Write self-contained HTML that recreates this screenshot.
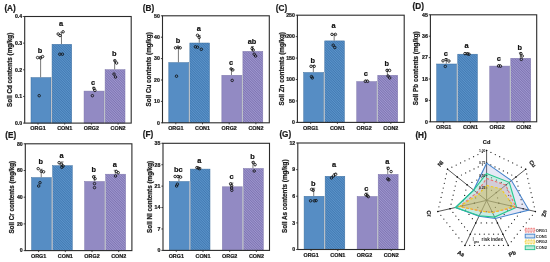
<!DOCTYPE html>
<html><head><meta charset="utf-8"><style>
html,body{margin:0;padding:0;background:#fff;width:550px;height:262px;overflow:hidden;font-family:"Liberation Sans", sans-serif;}
svg{display:block;will-change:transform;}
text.b{stroke:#1a1a1a;stroke-width:0.22px;}
</style></head><body>
<svg width="550" height="262" viewBox="0 0 550 262">
<defs>
<pattern id="hb" width="1.75" height="1.75" patternUnits="userSpaceOnUse" patternTransform="rotate(-45)"><rect width="1.75" height="1.75" fill="#5b94cb"/><rect x="0" width="0.7" height="1.75" fill="#2f65a0" fill-opacity="0.72"/></pattern>
<pattern id="hp" width="1.75" height="1.75" patternUnits="userSpaceOnUse" patternTransform="rotate(-45)"><rect width="1.75" height="1.75" fill="#9f97cf"/><rect x="0" width="0.7" height="1.75" fill="#665c9c" fill-opacity="0.72"/></pattern>
</defs>
<rect width="550" height="262" fill="#fff"/>
<rect x="31.00" y="77.60" width="20.05" height="45.50" fill="#568dc4"/>
<rect x="31.00" y="77.60" width="20.05" height="45.50" fill="none" stroke="#3d6f9f" stroke-width="0.5"/>
<rect x="52.05" y="44.30" width="19.65" height="78.80" fill="url(#hb)"/>
<rect x="52.05" y="44.30" width="19.65" height="78.80" fill="none" stroke="#3d6f9f" stroke-width="0.5"/>
<rect x="84.05" y="91.10" width="20.05" height="32.00" fill="#928ac3"/>
<rect x="84.05" y="91.10" width="20.05" height="32.00" fill="none" stroke="#7d74aa" stroke-width="0.5"/>
<rect x="105.10" y="69.70" width="19.90" height="53.40" fill="url(#hp)"/>
<rect x="105.10" y="69.70" width="19.90" height="53.40" fill="none" stroke="#7d74aa" stroke-width="0.5"/>
<rect x="51.05" y="77.30" width="1" height="45.80" fill="#bcc1c9"/>
<rect x="104.10" y="90.80" width="1" height="32.30" fill="#bcc1c9"/>
<line x1="40.62" y1="77.30" x2="40.62" y2="56.40" stroke="#6a6a6a" stroke-width="0.9"/>
<line x1="39.12" y1="56.40" x2="42.12" y2="56.40" stroke="#6a6a6a" stroke-width="0.8"/>
<line x1="61.48" y1="44.00" x2="61.48" y2="32.30" stroke="#6a6a6a" stroke-width="0.9"/>
<line x1="59.98" y1="32.30" x2="62.98" y2="32.30" stroke="#6a6a6a" stroke-width="0.8"/>
<line x1="93.67" y1="90.80" x2="93.67" y2="87.30" stroke="#6a6a6a" stroke-width="0.9"/>
<line x1="92.17" y1="87.30" x2="95.17" y2="87.30" stroke="#6a6a6a" stroke-width="0.8"/>
<line x1="114.65" y1="69.40" x2="114.65" y2="60.00" stroke="#6a6a6a" stroke-width="0.9"/>
<line x1="113.15" y1="60.00" x2="116.15" y2="60.00" stroke="#6a6a6a" stroke-width="0.8"/>
<circle cx="37.60" cy="57.60" r="1.25" fill="none" stroke="#111" stroke-width="0.85"/>
<circle cx="40.50" cy="58.00" r="1.25" fill="none" stroke="#111" stroke-width="0.85"/>
<circle cx="42.60" cy="56.60" r="1.25" fill="none" stroke="#111" stroke-width="0.85"/>
<circle cx="39.20" cy="95.70" r="1.25" fill="none" stroke="#111" stroke-width="0.85"/>
<circle cx="58.20" cy="34.00" r="1.25" fill="none" stroke="#111" stroke-width="0.85"/>
<circle cx="60.00" cy="35.50" r="1.25" fill="none" stroke="#111" stroke-width="0.85"/>
<circle cx="63.10" cy="31.80" r="1.25" fill="none" stroke="#111" stroke-width="0.85"/>
<circle cx="59.80" cy="54.20" r="1.25" fill="none" stroke="#111" stroke-width="0.85"/>
<circle cx="62.40" cy="54.20" r="1.25" fill="none" stroke="#111" stroke-width="0.85"/>
<circle cx="93.90" cy="88.40" r="1.25" fill="none" stroke="#111" stroke-width="0.85"/>
<circle cx="94.90" cy="90.40" r="1.25" fill="none" stroke="#111" stroke-width="0.85"/>
<circle cx="92.40" cy="95.70" r="1.25" fill="none" stroke="#111" stroke-width="0.85"/>
<circle cx="114.90" cy="60.80" r="1.25" fill="none" stroke="#111" stroke-width="0.85"/>
<circle cx="116.60" cy="63.00" r="1.25" fill="none" stroke="#111" stroke-width="0.85"/>
<circle cx="114.00" cy="74.10" r="1.25" fill="none" stroke="#111" stroke-width="0.85"/>
<circle cx="115.50" cy="77.00" r="1.25" fill="none" stroke="#111" stroke-width="0.85"/>
<text x="40.12" y="53.00" font-family='"Liberation Sans", sans-serif' class="b" font-weight="bold" font-size="7.4" text-anchor="middle" fill="#111">b</text>
<text x="60.98" y="26.00" font-family='"Liberation Sans", sans-serif' class="b" font-weight="bold" font-size="7.4" text-anchor="middle" fill="#111">a</text>
<text x="93.17" y="84.50" font-family='"Liberation Sans", sans-serif' class="b" font-weight="bold" font-size="7.4" text-anchor="middle" fill="#111">c</text>
<text x="114.15" y="56.40" font-family='"Liberation Sans", sans-serif' class="b" font-weight="bold" font-size="7.4" text-anchor="middle" fill="#111">b</text>
<rect x="24.70" y="16.50" width="106.50" height="106.60" fill="none" stroke="#2b2b2b" stroke-width="1.1"/>
<line x1="23.10" y1="123.10" x2="24.70" y2="123.10" stroke="#2b2b2b" stroke-width="0.9"/>
<text x="22.10" y="124.95" font-family='"Liberation Sans", sans-serif' class="b" font-weight="bold" font-size="5.2" text-anchor="end" fill="#1a1a1a">0.0</text>
<line x1="23.10" y1="96.45" x2="24.70" y2="96.45" stroke="#2b2b2b" stroke-width="0.9"/>
<text x="22.10" y="98.30" font-family='"Liberation Sans", sans-serif' class="b" font-weight="bold" font-size="5.2" text-anchor="end" fill="#1a1a1a">0.1</text>
<line x1="23.10" y1="69.80" x2="24.70" y2="69.80" stroke="#2b2b2b" stroke-width="0.9"/>
<text x="22.10" y="71.65" font-family='"Liberation Sans", sans-serif' class="b" font-weight="bold" font-size="5.2" text-anchor="end" fill="#1a1a1a">0.2</text>
<line x1="23.10" y1="43.15" x2="24.70" y2="43.15" stroke="#2b2b2b" stroke-width="0.9"/>
<text x="22.10" y="45.00" font-family='"Liberation Sans", sans-serif' class="b" font-weight="bold" font-size="5.2" text-anchor="end" fill="#1a1a1a">0.3</text>
<line x1="23.10" y1="16.50" x2="24.70" y2="16.50" stroke="#2b2b2b" stroke-width="0.9"/>
<text x="22.10" y="18.35" font-family='"Liberation Sans", sans-serif' class="b" font-weight="bold" font-size="5.2" text-anchor="end" fill="#1a1a1a">0.4</text>
<line x1="38.00" y1="123.10" x2="38.00" y2="124.60" stroke="#2b2b2b" stroke-width="0.9"/>
<text x="38.00" y="130.20" font-family='"Liberation Sans", sans-serif' class="b" font-weight="bold" font-size="5.4" text-anchor="middle" fill="#1a1a1a">ORG1</text>
<line x1="64.70" y1="123.10" x2="64.70" y2="124.60" stroke="#2b2b2b" stroke-width="0.9"/>
<text x="64.70" y="130.20" font-family='"Liberation Sans", sans-serif' class="b" font-weight="bold" font-size="5.4" text-anchor="middle" fill="#1a1a1a">CON1</text>
<line x1="91.40" y1="123.10" x2="91.40" y2="124.60" stroke="#2b2b2b" stroke-width="0.9"/>
<text x="91.40" y="130.20" font-family='"Liberation Sans", sans-serif' class="b" font-weight="bold" font-size="5.4" text-anchor="middle" fill="#1a1a1a">ORG2</text>
<line x1="118.10" y1="123.10" x2="118.10" y2="124.60" stroke="#2b2b2b" stroke-width="0.9"/>
<text x="118.10" y="130.20" font-family='"Liberation Sans", sans-serif' class="b" font-weight="bold" font-size="5.4" text-anchor="middle" fill="#1a1a1a">CON2</text>
<text transform="translate(12.40,69.80) rotate(-90)" font-family='"Liberation Sans", sans-serif' class="b" font-weight="bold" font-size="6.3" text-anchor="middle" fill="#1a1a1a">Soil Cd contents (mg/kg)</text>
<text x="4.40" y="11.10" font-family='"Liberation Sans", sans-serif' class="b" font-weight="bold" font-size="8.2" fill="#1a1a1a">(A)</text>
<rect x="168.80" y="62.60" width="20.05" height="60.20" fill="#568dc4"/>
<rect x="168.80" y="62.60" width="20.05" height="60.20" fill="none" stroke="#3d6f9f" stroke-width="0.5"/>
<rect x="189.85" y="43.00" width="19.65" height="79.80" fill="url(#hb)"/>
<rect x="189.85" y="43.00" width="19.65" height="79.80" fill="none" stroke="#3d6f9f" stroke-width="0.5"/>
<rect x="221.85" y="75.30" width="20.05" height="47.50" fill="#928ac3"/>
<rect x="221.85" y="75.30" width="20.05" height="47.50" fill="none" stroke="#7d74aa" stroke-width="0.5"/>
<rect x="242.90" y="51.40" width="19.90" height="71.40" fill="url(#hp)"/>
<rect x="242.90" y="51.40" width="19.90" height="71.40" fill="none" stroke="#7d74aa" stroke-width="0.5"/>
<rect x="188.85" y="62.30" width="1" height="60.50" fill="#bcc1c9"/>
<rect x="241.90" y="75.00" width="1" height="47.80" fill="#bcc1c9"/>
<line x1="178.42" y1="62.30" x2="178.42" y2="47.50" stroke="#6a6a6a" stroke-width="0.9"/>
<line x1="176.92" y1="47.50" x2="179.92" y2="47.50" stroke="#6a6a6a" stroke-width="0.8"/>
<line x1="199.28" y1="42.70" x2="199.28" y2="35.40" stroke="#6a6a6a" stroke-width="0.9"/>
<line x1="197.78" y1="35.40" x2="200.78" y2="35.40" stroke="#6a6a6a" stroke-width="0.8"/>
<line x1="231.47" y1="75.00" x2="231.47" y2="68.70" stroke="#6a6a6a" stroke-width="0.9"/>
<line x1="229.97" y1="68.70" x2="232.97" y2="68.70" stroke="#6a6a6a" stroke-width="0.8"/>
<line x1="252.45" y1="51.10" x2="252.45" y2="46.50" stroke="#6a6a6a" stroke-width="0.9"/>
<line x1="250.95" y1="46.50" x2="253.95" y2="46.50" stroke="#6a6a6a" stroke-width="0.8"/>
<circle cx="175.50" cy="47.80" r="1.25" fill="none" stroke="#111" stroke-width="0.85"/>
<circle cx="178.00" cy="47.20" r="1.25" fill="none" stroke="#111" stroke-width="0.85"/>
<circle cx="180.20" cy="47.80" r="1.25" fill="none" stroke="#111" stroke-width="0.85"/>
<circle cx="176.50" cy="76.20" r="1.25" fill="none" stroke="#111" stroke-width="0.85"/>
<circle cx="197.50" cy="35.30" r="1.25" fill="none" stroke="#111" stroke-width="0.85"/>
<circle cx="199.20" cy="37.40" r="1.25" fill="none" stroke="#111" stroke-width="0.85"/>
<circle cx="195.40" cy="46.80" r="1.25" fill="none" stroke="#111" stroke-width="0.85"/>
<circle cx="197.50" cy="47.20" r="1.25" fill="none" stroke="#111" stroke-width="0.85"/>
<circle cx="201.30" cy="49.30" r="1.25" fill="none" stroke="#111" stroke-width="0.85"/>
<circle cx="231.10" cy="68.90" r="1.25" fill="none" stroke="#111" stroke-width="0.85"/>
<circle cx="232.80" cy="69.90" r="1.25" fill="none" stroke="#111" stroke-width="0.85"/>
<circle cx="232.20" cy="80.40" r="1.25" fill="none" stroke="#111" stroke-width="0.85"/>
<circle cx="252.10" cy="48.50" r="1.25" fill="none" stroke="#111" stroke-width="0.85"/>
<circle cx="253.20" cy="50.00" r="1.25" fill="none" stroke="#111" stroke-width="0.85"/>
<circle cx="254.20" cy="54.20" r="1.25" fill="none" stroke="#111" stroke-width="0.85"/>
<circle cx="255.60" cy="56.00" r="1.25" fill="none" stroke="#111" stroke-width="0.85"/>
<text x="177.92" y="42.60" font-family='"Liberation Sans", sans-serif' class="b" font-weight="bold" font-size="7.4" text-anchor="middle" fill="#111">b</text>
<text x="198.78" y="31.40" font-family='"Liberation Sans", sans-serif' class="b" font-weight="bold" font-size="7.4" text-anchor="middle" fill="#111">a</text>
<text x="230.97" y="65.00" font-family='"Liberation Sans", sans-serif' class="b" font-weight="bold" font-size="7.4" text-anchor="middle" fill="#111">c</text>
<text x="251.95" y="43.80" font-family='"Liberation Sans", sans-serif' class="b" font-weight="bold" font-size="7.4" text-anchor="middle" fill="#111">ab</text>
<rect x="162.50" y="15.80" width="106.80" height="107.00" fill="none" stroke="#2b2b2b" stroke-width="1.1"/>
<line x1="160.90" y1="122.80" x2="162.50" y2="122.80" stroke="#2b2b2b" stroke-width="0.9"/>
<text x="159.90" y="124.65" font-family='"Liberation Sans", sans-serif' class="b" font-weight="bold" font-size="5.2" text-anchor="end" fill="#1a1a1a">0</text>
<line x1="160.90" y1="101.40" x2="162.50" y2="101.40" stroke="#2b2b2b" stroke-width="0.9"/>
<text x="159.90" y="103.25" font-family='"Liberation Sans", sans-serif' class="b" font-weight="bold" font-size="5.2" text-anchor="end" fill="#1a1a1a">10</text>
<line x1="160.90" y1="80.00" x2="162.50" y2="80.00" stroke="#2b2b2b" stroke-width="0.9"/>
<text x="159.90" y="81.85" font-family='"Liberation Sans", sans-serif' class="b" font-weight="bold" font-size="5.2" text-anchor="end" fill="#1a1a1a">20</text>
<line x1="160.90" y1="58.60" x2="162.50" y2="58.60" stroke="#2b2b2b" stroke-width="0.9"/>
<text x="159.90" y="60.45" font-family='"Liberation Sans", sans-serif' class="b" font-weight="bold" font-size="5.2" text-anchor="end" fill="#1a1a1a">30</text>
<line x1="160.90" y1="37.20" x2="162.50" y2="37.20" stroke="#2b2b2b" stroke-width="0.9"/>
<text x="159.90" y="39.05" font-family='"Liberation Sans", sans-serif' class="b" font-weight="bold" font-size="5.2" text-anchor="end" fill="#1a1a1a">40</text>
<line x1="160.90" y1="15.80" x2="162.50" y2="15.80" stroke="#2b2b2b" stroke-width="0.9"/>
<text x="159.90" y="17.65" font-family='"Liberation Sans", sans-serif' class="b" font-weight="bold" font-size="5.2" text-anchor="end" fill="#1a1a1a">50</text>
<line x1="175.80" y1="122.80" x2="175.80" y2="124.30" stroke="#2b2b2b" stroke-width="0.9"/>
<text x="175.80" y="129.90" font-family='"Liberation Sans", sans-serif' class="b" font-weight="bold" font-size="5.4" text-anchor="middle" fill="#1a1a1a">ORG1</text>
<line x1="202.50" y1="122.80" x2="202.50" y2="124.30" stroke="#2b2b2b" stroke-width="0.9"/>
<text x="202.50" y="129.90" font-family='"Liberation Sans", sans-serif' class="b" font-weight="bold" font-size="5.4" text-anchor="middle" fill="#1a1a1a">CON1</text>
<line x1="229.20" y1="122.80" x2="229.20" y2="124.30" stroke="#2b2b2b" stroke-width="0.9"/>
<text x="229.20" y="129.90" font-family='"Liberation Sans", sans-serif' class="b" font-weight="bold" font-size="5.4" text-anchor="middle" fill="#1a1a1a">ORG2</text>
<line x1="255.90" y1="122.80" x2="255.90" y2="124.30" stroke="#2b2b2b" stroke-width="0.9"/>
<text x="255.90" y="129.90" font-family='"Liberation Sans", sans-serif' class="b" font-weight="bold" font-size="5.4" text-anchor="middle" fill="#1a1a1a">CON2</text>
<text transform="translate(150.90,69.30) rotate(-90)" font-family='"Liberation Sans", sans-serif' class="b" font-weight="bold" font-size="6.3" text-anchor="middle" fill="#1a1a1a">Soil Cu contents (mg/kg)</text>
<text x="142.80" y="10.50" font-family='"Liberation Sans", sans-serif' class="b" font-weight="bold" font-size="8.2" fill="#1a1a1a">(B)</text>
<rect x="303.70" y="72.50" width="20.05" height="49.90" fill="#568dc4"/>
<rect x="303.70" y="72.50" width="20.05" height="49.90" fill="none" stroke="#3d6f9f" stroke-width="0.5"/>
<rect x="324.75" y="40.90" width="19.65" height="81.50" fill="url(#hb)"/>
<rect x="324.75" y="40.90" width="19.65" height="81.50" fill="none" stroke="#3d6f9f" stroke-width="0.5"/>
<rect x="356.75" y="81.60" width="20.05" height="40.80" fill="#928ac3"/>
<rect x="356.75" y="81.60" width="20.05" height="40.80" fill="none" stroke="#7d74aa" stroke-width="0.5"/>
<rect x="377.80" y="75.30" width="19.90" height="47.10" fill="url(#hp)"/>
<rect x="377.80" y="75.30" width="19.90" height="47.10" fill="none" stroke="#7d74aa" stroke-width="0.5"/>
<rect x="323.75" y="72.20" width="1" height="50.20" fill="#bcc1c9"/>
<rect x="376.80" y="81.30" width="1" height="41.10" fill="#bcc1c9"/>
<line x1="313.33" y1="72.20" x2="313.33" y2="65.50" stroke="#6a6a6a" stroke-width="0.9"/>
<line x1="311.83" y1="65.50" x2="314.83" y2="65.50" stroke="#6a6a6a" stroke-width="0.8"/>
<line x1="334.18" y1="40.60" x2="334.18" y2="34.40" stroke="#6a6a6a" stroke-width="0.9"/>
<line x1="332.68" y1="34.40" x2="335.68" y2="34.40" stroke="#6a6a6a" stroke-width="0.8"/>
<line x1="366.38" y1="81.30" x2="366.38" y2="80.00" stroke="#6a6a6a" stroke-width="0.9"/>
<line x1="364.88" y1="80.00" x2="367.88" y2="80.00" stroke="#6a6a6a" stroke-width="0.8"/>
<line x1="387.35" y1="75.00" x2="387.35" y2="69.70" stroke="#6a6a6a" stroke-width="0.9"/>
<line x1="385.85" y1="69.70" x2="388.85" y2="69.70" stroke="#6a6a6a" stroke-width="0.8"/>
<circle cx="311.00" cy="66.30" r="1.25" fill="none" stroke="#111" stroke-width="0.85"/>
<circle cx="314.20" cy="66.30" r="1.25" fill="none" stroke="#111" stroke-width="0.85"/>
<circle cx="311.50" cy="76.60" r="1.25" fill="none" stroke="#111" stroke-width="0.85"/>
<circle cx="312.30" cy="77.90" r="1.25" fill="none" stroke="#111" stroke-width="0.85"/>
<circle cx="332.00" cy="34.40" r="1.25" fill="none" stroke="#111" stroke-width="0.85"/>
<circle cx="335.40" cy="34.40" r="1.25" fill="none" stroke="#111" stroke-width="0.85"/>
<circle cx="333.20" cy="45.20" r="1.25" fill="none" stroke="#111" stroke-width="0.85"/>
<circle cx="334.80" cy="47.50" r="1.25" fill="none" stroke="#111" stroke-width="0.85"/>
<circle cx="365.30" cy="81.30" r="1.25" fill="none" stroke="#111" stroke-width="0.85"/>
<circle cx="367.60" cy="81.30" r="1.25" fill="none" stroke="#111" stroke-width="0.85"/>
<circle cx="387.10" cy="70.40" r="1.25" fill="none" stroke="#111" stroke-width="0.85"/>
<circle cx="389.60" cy="70.40" r="1.25" fill="none" stroke="#111" stroke-width="0.85"/>
<circle cx="388.10" cy="76.00" r="1.25" fill="none" stroke="#111" stroke-width="0.85"/>
<circle cx="389.70" cy="77.90" r="1.25" fill="none" stroke="#111" stroke-width="0.85"/>
<text x="312.83" y="62.90" font-family='"Liberation Sans", sans-serif' class="b" font-weight="bold" font-size="7.4" text-anchor="middle" fill="#111">b</text>
<text x="333.68" y="28.00" font-family='"Liberation Sans", sans-serif' class="b" font-weight="bold" font-size="7.4" text-anchor="middle" fill="#111">a</text>
<text x="365.88" y="75.60" font-family='"Liberation Sans", sans-serif' class="b" font-weight="bold" font-size="7.4" text-anchor="middle" fill="#111">c</text>
<text x="386.85" y="66.00" font-family='"Liberation Sans", sans-serif' class="b" font-weight="bold" font-size="7.4" text-anchor="middle" fill="#111">b</text>
<rect x="297.40" y="15.20" width="106.80" height="107.20" fill="none" stroke="#2b2b2b" stroke-width="1.1"/>
<line x1="295.80" y1="122.40" x2="297.40" y2="122.40" stroke="#2b2b2b" stroke-width="0.9"/>
<text x="294.80" y="124.25" font-family='"Liberation Sans", sans-serif' class="b" font-weight="bold" font-size="5.2" text-anchor="end" fill="#1a1a1a">0</text>
<line x1="295.80" y1="100.96" x2="297.40" y2="100.96" stroke="#2b2b2b" stroke-width="0.9"/>
<text x="294.80" y="102.81" font-family='"Liberation Sans", sans-serif' class="b" font-weight="bold" font-size="5.2" text-anchor="end" fill="#1a1a1a">50</text>
<line x1="295.80" y1="79.52" x2="297.40" y2="79.52" stroke="#2b2b2b" stroke-width="0.9"/>
<text x="294.80" y="81.37" font-family='"Liberation Sans", sans-serif' class="b" font-weight="bold" font-size="5.2" text-anchor="end" fill="#1a1a1a">100</text>
<line x1="295.80" y1="58.08" x2="297.40" y2="58.08" stroke="#2b2b2b" stroke-width="0.9"/>
<text x="294.80" y="59.93" font-family='"Liberation Sans", sans-serif' class="b" font-weight="bold" font-size="5.2" text-anchor="end" fill="#1a1a1a">150</text>
<line x1="295.80" y1="36.64" x2="297.40" y2="36.64" stroke="#2b2b2b" stroke-width="0.9"/>
<text x="294.80" y="38.49" font-family='"Liberation Sans", sans-serif' class="b" font-weight="bold" font-size="5.2" text-anchor="end" fill="#1a1a1a">200</text>
<line x1="295.80" y1="15.20" x2="297.40" y2="15.20" stroke="#2b2b2b" stroke-width="0.9"/>
<text x="294.80" y="17.05" font-family='"Liberation Sans", sans-serif' class="b" font-weight="bold" font-size="5.2" text-anchor="end" fill="#1a1a1a">250</text>
<line x1="310.70" y1="122.40" x2="310.70" y2="123.90" stroke="#2b2b2b" stroke-width="0.9"/>
<text x="310.70" y="129.50" font-family='"Liberation Sans", sans-serif' class="b" font-weight="bold" font-size="5.4" text-anchor="middle" fill="#1a1a1a">ORG1</text>
<line x1="337.40" y1="122.40" x2="337.40" y2="123.90" stroke="#2b2b2b" stroke-width="0.9"/>
<text x="337.40" y="129.50" font-family='"Liberation Sans", sans-serif' class="b" font-weight="bold" font-size="5.4" text-anchor="middle" fill="#1a1a1a">CON1</text>
<line x1="364.10" y1="122.40" x2="364.10" y2="123.90" stroke="#2b2b2b" stroke-width="0.9"/>
<text x="364.10" y="129.50" font-family='"Liberation Sans", sans-serif' class="b" font-weight="bold" font-size="5.4" text-anchor="middle" fill="#1a1a1a">ORG2</text>
<line x1="390.80" y1="122.40" x2="390.80" y2="123.90" stroke="#2b2b2b" stroke-width="0.9"/>
<text x="390.80" y="129.50" font-family='"Liberation Sans", sans-serif' class="b" font-weight="bold" font-size="5.4" text-anchor="middle" fill="#1a1a1a">CON2</text>
<text transform="translate(283.60,68.80) rotate(-90)" font-family='"Liberation Sans", sans-serif' class="b" font-weight="bold" font-size="6.3" text-anchor="middle" fill="#1a1a1a">Soil Zn contents (mg/kg)</text>
<text x="275.80" y="10.50" font-family='"Liberation Sans", sans-serif' class="b" font-weight="bold" font-size="8.2" fill="#1a1a1a">(C)</text>
<rect x="436.70" y="64.00" width="20.05" height="57.80" fill="#568dc4"/>
<rect x="436.70" y="64.00" width="20.05" height="57.80" fill="none" stroke="#3d6f9f" stroke-width="0.5"/>
<rect x="457.75" y="54.20" width="19.65" height="67.60" fill="url(#hb)"/>
<rect x="457.75" y="54.20" width="19.65" height="67.60" fill="none" stroke="#3d6f9f" stroke-width="0.5"/>
<rect x="489.75" y="66.10" width="20.05" height="55.70" fill="#928ac3"/>
<rect x="489.75" y="66.10" width="20.05" height="55.70" fill="none" stroke="#7d74aa" stroke-width="0.5"/>
<rect x="510.80" y="58.30" width="19.90" height="63.50" fill="url(#hp)"/>
<rect x="510.80" y="58.30" width="19.90" height="63.50" fill="none" stroke="#7d74aa" stroke-width="0.5"/>
<rect x="456.75" y="63.70" width="1" height="58.10" fill="#bcc1c9"/>
<rect x="509.80" y="65.80" width="1" height="56.00" fill="#bcc1c9"/>
<line x1="446.33" y1="63.70" x2="446.33" y2="58.70" stroke="#6a6a6a" stroke-width="0.9"/>
<line x1="444.83" y1="58.70" x2="447.83" y2="58.70" stroke="#6a6a6a" stroke-width="0.8"/>
<line x1="467.18" y1="53.90" x2="467.18" y2="52.80" stroke="#6a6a6a" stroke-width="0.9"/>
<line x1="465.68" y1="52.80" x2="468.68" y2="52.80" stroke="#6a6a6a" stroke-width="0.8"/>
<line x1="499.38" y1="65.80" x2="499.38" y2="64.50" stroke="#6a6a6a" stroke-width="0.9"/>
<line x1="497.88" y1="64.50" x2="500.88" y2="64.50" stroke="#6a6a6a" stroke-width="0.8"/>
<line x1="520.35" y1="58.00" x2="520.35" y2="52.80" stroke="#6a6a6a" stroke-width="0.9"/>
<line x1="518.85" y1="52.80" x2="521.85" y2="52.80" stroke="#6a6a6a" stroke-width="0.8"/>
<circle cx="443.00" cy="60.80" r="1.25" fill="none" stroke="#111" stroke-width="0.85"/>
<circle cx="446.00" cy="59.60" r="1.25" fill="none" stroke="#111" stroke-width="0.85"/>
<circle cx="448.90" cy="61.00" r="1.25" fill="none" stroke="#111" stroke-width="0.85"/>
<circle cx="445.30" cy="66.40" r="1.25" fill="none" stroke="#111" stroke-width="0.85"/>
<circle cx="465.00" cy="53.60" r="1.25" fill="none" stroke="#111" stroke-width="0.85"/>
<circle cx="467.40" cy="53.80" r="1.25" fill="none" stroke="#111" stroke-width="0.85"/>
<circle cx="469.00" cy="54.20" r="1.25" fill="none" stroke="#111" stroke-width="0.85"/>
<circle cx="498.50" cy="66.00" r="1.25" fill="none" stroke="#111" stroke-width="0.85"/>
<circle cx="500.50" cy="66.20" r="1.25" fill="none" stroke="#111" stroke-width="0.85"/>
<circle cx="520.90" cy="53.60" r="1.25" fill="none" stroke="#111" stroke-width="0.85"/>
<circle cx="522.20" cy="56.00" r="1.25" fill="none" stroke="#111" stroke-width="0.85"/>
<circle cx="521.30" cy="59.40" r="1.25" fill="none" stroke="#111" stroke-width="0.85"/>
<text x="445.83" y="56.20" font-family='"Liberation Sans", sans-serif' class="b" font-weight="bold" font-size="7.4" text-anchor="middle" fill="#111">c</text>
<text x="466.68" y="47.80" font-family='"Liberation Sans", sans-serif' class="b" font-weight="bold" font-size="7.4" text-anchor="middle" fill="#111">a</text>
<text x="498.88" y="61.00" font-family='"Liberation Sans", sans-serif' class="b" font-weight="bold" font-size="7.4" text-anchor="middle" fill="#111">c</text>
<text x="519.85" y="50.30" font-family='"Liberation Sans", sans-serif' class="b" font-weight="bold" font-size="7.4" text-anchor="middle" fill="#111">b</text>
<rect x="430.40" y="14.80" width="106.30" height="107.00" fill="none" stroke="#2b2b2b" stroke-width="1.1"/>
<line x1="428.80" y1="121.80" x2="430.40" y2="121.80" stroke="#2b2b2b" stroke-width="0.9"/>
<text x="427.80" y="123.65" font-family='"Liberation Sans", sans-serif' class="b" font-weight="bold" font-size="5.2" text-anchor="end" fill="#1a1a1a">0</text>
<line x1="428.80" y1="100.40" x2="430.40" y2="100.40" stroke="#2b2b2b" stroke-width="0.9"/>
<text x="427.80" y="102.25" font-family='"Liberation Sans", sans-serif' class="b" font-weight="bold" font-size="5.2" text-anchor="end" fill="#1a1a1a">9</text>
<line x1="428.80" y1="79.00" x2="430.40" y2="79.00" stroke="#2b2b2b" stroke-width="0.9"/>
<text x="427.80" y="80.85" font-family='"Liberation Sans", sans-serif' class="b" font-weight="bold" font-size="5.2" text-anchor="end" fill="#1a1a1a">18</text>
<line x1="428.80" y1="57.60" x2="430.40" y2="57.60" stroke="#2b2b2b" stroke-width="0.9"/>
<text x="427.80" y="59.45" font-family='"Liberation Sans", sans-serif' class="b" font-weight="bold" font-size="5.2" text-anchor="end" fill="#1a1a1a">27</text>
<line x1="428.80" y1="36.20" x2="430.40" y2="36.20" stroke="#2b2b2b" stroke-width="0.9"/>
<text x="427.80" y="38.05" font-family='"Liberation Sans", sans-serif' class="b" font-weight="bold" font-size="5.2" text-anchor="end" fill="#1a1a1a">36</text>
<line x1="428.80" y1="14.80" x2="430.40" y2="14.80" stroke="#2b2b2b" stroke-width="0.9"/>
<text x="427.80" y="16.65" font-family='"Liberation Sans", sans-serif' class="b" font-weight="bold" font-size="5.2" text-anchor="end" fill="#1a1a1a">45</text>
<line x1="443.70" y1="121.80" x2="443.70" y2="123.30" stroke="#2b2b2b" stroke-width="0.9"/>
<text x="443.70" y="128.90" font-family='"Liberation Sans", sans-serif' class="b" font-weight="bold" font-size="5.4" text-anchor="middle" fill="#1a1a1a">ORG1</text>
<line x1="470.40" y1="121.80" x2="470.40" y2="123.30" stroke="#2b2b2b" stroke-width="0.9"/>
<text x="470.40" y="128.90" font-family='"Liberation Sans", sans-serif' class="b" font-weight="bold" font-size="5.4" text-anchor="middle" fill="#1a1a1a">CON1</text>
<line x1="497.10" y1="121.80" x2="497.10" y2="123.30" stroke="#2b2b2b" stroke-width="0.9"/>
<text x="497.10" y="128.90" font-family='"Liberation Sans", sans-serif' class="b" font-weight="bold" font-size="5.4" text-anchor="middle" fill="#1a1a1a">ORG2</text>
<line x1="523.80" y1="121.80" x2="523.80" y2="123.30" stroke="#2b2b2b" stroke-width="0.9"/>
<text x="523.80" y="128.90" font-family='"Liberation Sans", sans-serif' class="b" font-weight="bold" font-size="5.4" text-anchor="middle" fill="#1a1a1a">CON2</text>
<text transform="translate(418.40,68.30) rotate(-90)" font-family='"Liberation Sans", sans-serif' class="b" font-weight="bold" font-size="6.3" text-anchor="middle" fill="#1a1a1a">Soil Pb contents (mg/kg)</text>
<text x="412.50" y="9.40" font-family='"Liberation Sans", sans-serif' class="b" font-weight="bold" font-size="8.2" fill="#1a1a1a">(D)</text>
<rect x="31.60" y="177.60" width="20.05" height="73.00" fill="#568dc4"/>
<rect x="31.60" y="177.60" width="20.05" height="73.00" fill="none" stroke="#3d6f9f" stroke-width="0.5"/>
<rect x="52.65" y="165.70" width="19.65" height="84.90" fill="url(#hb)"/>
<rect x="52.65" y="165.70" width="19.65" height="84.90" fill="none" stroke="#3d6f9f" stroke-width="0.5"/>
<rect x="84.65" y="181.50" width="20.05" height="69.10" fill="#928ac3"/>
<rect x="84.65" y="181.50" width="20.05" height="69.10" fill="none" stroke="#7d74aa" stroke-width="0.5"/>
<rect x="105.70" y="174.20" width="19.90" height="76.40" fill="url(#hp)"/>
<rect x="105.70" y="174.20" width="19.90" height="76.40" fill="none" stroke="#7d74aa" stroke-width="0.5"/>
<rect x="51.65" y="177.30" width="1" height="73.30" fill="#bcc1c9"/>
<rect x="104.70" y="181.20" width="1" height="69.40" fill="#bcc1c9"/>
<line x1="41.23" y1="177.30" x2="41.23" y2="169.30" stroke="#6a6a6a" stroke-width="0.9"/>
<line x1="39.73" y1="169.30" x2="42.73" y2="169.30" stroke="#6a6a6a" stroke-width="0.8"/>
<line x1="62.08" y1="165.40" x2="62.08" y2="161.90" stroke="#6a6a6a" stroke-width="0.9"/>
<line x1="60.58" y1="161.90" x2="63.58" y2="161.90" stroke="#6a6a6a" stroke-width="0.8"/>
<line x1="94.28" y1="181.20" x2="94.28" y2="175.60" stroke="#6a6a6a" stroke-width="0.9"/>
<line x1="92.78" y1="175.60" x2="95.78" y2="175.60" stroke="#6a6a6a" stroke-width="0.8"/>
<line x1="115.25" y1="173.90" x2="115.25" y2="170.30" stroke="#6a6a6a" stroke-width="0.9"/>
<line x1="113.75" y1="170.30" x2="116.75" y2="170.30" stroke="#6a6a6a" stroke-width="0.8"/>
<circle cx="38.20" cy="168.70" r="1.25" fill="none" stroke="#111" stroke-width="0.85"/>
<circle cx="41.30" cy="171.30" r="1.25" fill="none" stroke="#111" stroke-width="0.85"/>
<circle cx="43.60" cy="171.80" r="1.25" fill="none" stroke="#111" stroke-width="0.85"/>
<circle cx="40.00" cy="182.70" r="1.25" fill="none" stroke="#111" stroke-width="0.85"/>
<circle cx="38.70" cy="186.00" r="1.25" fill="none" stroke="#111" stroke-width="0.85"/>
<circle cx="59.10" cy="162.70" r="1.25" fill="none" stroke="#111" stroke-width="0.85"/>
<circle cx="61.30" cy="164.20" r="1.25" fill="none" stroke="#111" stroke-width="0.85"/>
<circle cx="63.10" cy="166.00" r="1.25" fill="none" stroke="#111" stroke-width="0.85"/>
<circle cx="61.80" cy="167.30" r="1.25" fill="none" stroke="#111" stroke-width="0.85"/>
<circle cx="93.60" cy="176.90" r="1.25" fill="none" stroke="#111" stroke-width="0.85"/>
<circle cx="95.10" cy="178.70" r="1.25" fill="none" stroke="#111" stroke-width="0.85"/>
<circle cx="94.50" cy="183.60" r="1.25" fill="none" stroke="#111" stroke-width="0.85"/>
<circle cx="94.50" cy="187.60" r="1.25" fill="none" stroke="#111" stroke-width="0.85"/>
<circle cx="116.40" cy="171.50" r="1.25" fill="none" stroke="#111" stroke-width="0.85"/>
<circle cx="118.20" cy="172.70" r="1.25" fill="none" stroke="#111" stroke-width="0.85"/>
<circle cx="115.50" cy="176.00" r="1.25" fill="none" stroke="#111" stroke-width="0.85"/>
<text x="40.73" y="164.40" font-family='"Liberation Sans", sans-serif' class="b" font-weight="bold" font-size="7.4" text-anchor="middle" fill="#111">b</text>
<text x="61.58" y="158.00" font-family='"Liberation Sans", sans-serif' class="b" font-weight="bold" font-size="7.4" text-anchor="middle" fill="#111">a</text>
<text x="93.78" y="172.40" font-family='"Liberation Sans", sans-serif' class="b" font-weight="bold" font-size="7.4" text-anchor="middle" fill="#111">b</text>
<text x="114.75" y="167.20" font-family='"Liberation Sans", sans-serif' class="b" font-weight="bold" font-size="7.4" text-anchor="middle" fill="#111">a</text>
<rect x="25.30" y="143.80" width="106.60" height="106.80" fill="none" stroke="#2b2b2b" stroke-width="1.1"/>
<line x1="23.70" y1="250.60" x2="25.30" y2="250.60" stroke="#2b2b2b" stroke-width="0.9"/>
<text x="22.70" y="252.45" font-family='"Liberation Sans", sans-serif' class="b" font-weight="bold" font-size="5.2" text-anchor="end" fill="#1a1a1a">0</text>
<line x1="23.70" y1="223.90" x2="25.30" y2="223.90" stroke="#2b2b2b" stroke-width="0.9"/>
<text x="22.70" y="225.75" font-family='"Liberation Sans", sans-serif' class="b" font-weight="bold" font-size="5.2" text-anchor="end" fill="#1a1a1a">20</text>
<line x1="23.70" y1="197.20" x2="25.30" y2="197.20" stroke="#2b2b2b" stroke-width="0.9"/>
<text x="22.70" y="199.05" font-family='"Liberation Sans", sans-serif' class="b" font-weight="bold" font-size="5.2" text-anchor="end" fill="#1a1a1a">40</text>
<line x1="23.70" y1="170.50" x2="25.30" y2="170.50" stroke="#2b2b2b" stroke-width="0.9"/>
<text x="22.70" y="172.35" font-family='"Liberation Sans", sans-serif' class="b" font-weight="bold" font-size="5.2" text-anchor="end" fill="#1a1a1a">60</text>
<line x1="23.70" y1="143.80" x2="25.30" y2="143.80" stroke="#2b2b2b" stroke-width="0.9"/>
<text x="22.70" y="145.65" font-family='"Liberation Sans", sans-serif' class="b" font-weight="bold" font-size="5.2" text-anchor="end" fill="#1a1a1a">80</text>
<line x1="38.60" y1="250.60" x2="38.60" y2="252.10" stroke="#2b2b2b" stroke-width="0.9"/>
<text x="38.60" y="257.70" font-family='"Liberation Sans", sans-serif' class="b" font-weight="bold" font-size="5.4" text-anchor="middle" fill="#1a1a1a">ORG1</text>
<line x1="65.30" y1="250.60" x2="65.30" y2="252.10" stroke="#2b2b2b" stroke-width="0.9"/>
<text x="65.30" y="257.70" font-family='"Liberation Sans", sans-serif' class="b" font-weight="bold" font-size="5.4" text-anchor="middle" fill="#1a1a1a">CON1</text>
<line x1="92.00" y1="250.60" x2="92.00" y2="252.10" stroke="#2b2b2b" stroke-width="0.9"/>
<text x="92.00" y="257.70" font-family='"Liberation Sans", sans-serif' class="b" font-weight="bold" font-size="5.4" text-anchor="middle" fill="#1a1a1a">ORG2</text>
<line x1="118.70" y1="250.60" x2="118.70" y2="252.10" stroke="#2b2b2b" stroke-width="0.9"/>
<text x="118.70" y="257.70" font-family='"Liberation Sans", sans-serif' class="b" font-weight="bold" font-size="5.4" text-anchor="middle" fill="#1a1a1a">CON2</text>
<text transform="translate(14.30,197.20) rotate(-90)" font-family='"Liberation Sans", sans-serif' class="b" font-weight="bold" font-size="6.3" text-anchor="middle" fill="#1a1a1a">Soil Cr contents (mg/kg)</text>
<text x="5.30" y="137.70" font-family='"Liberation Sans", sans-serif' class="b" font-weight="bold" font-size="8.2" fill="#1a1a1a">(E)</text>
<rect x="169.30" y="181.50" width="20.05" height="68.90" fill="#568dc4"/>
<rect x="169.30" y="181.50" width="20.05" height="68.90" fill="none" stroke="#3d6f9f" stroke-width="0.5"/>
<rect x="190.35" y="169.10" width="19.65" height="81.30" fill="url(#hb)"/>
<rect x="190.35" y="169.10" width="19.65" height="81.30" fill="none" stroke="#3d6f9f" stroke-width="0.5"/>
<rect x="222.35" y="186.80" width="20.05" height="63.60" fill="#928ac3"/>
<rect x="222.35" y="186.80" width="20.05" height="63.60" fill="none" stroke="#7d74aa" stroke-width="0.5"/>
<rect x="243.40" y="168.50" width="19.90" height="81.90" fill="url(#hp)"/>
<rect x="243.40" y="168.50" width="19.90" height="81.90" fill="none" stroke="#7d74aa" stroke-width="0.5"/>
<rect x="189.35" y="181.20" width="1" height="69.20" fill="#bcc1c9"/>
<rect x="242.40" y="186.50" width="1" height="63.90" fill="#bcc1c9"/>
<line x1="178.92" y1="181.20" x2="178.92" y2="175.60" stroke="#6a6a6a" stroke-width="0.9"/>
<line x1="177.42" y1="175.60" x2="180.42" y2="175.60" stroke="#6a6a6a" stroke-width="0.8"/>
<line x1="199.78" y1="168.80" x2="199.78" y2="167.80" stroke="#6a6a6a" stroke-width="0.9"/>
<line x1="198.28" y1="167.80" x2="201.28" y2="167.80" stroke="#6a6a6a" stroke-width="0.8"/>
<line x1="231.97" y1="186.50" x2="231.97" y2="183.00" stroke="#6a6a6a" stroke-width="0.9"/>
<line x1="230.47" y1="183.00" x2="233.47" y2="183.00" stroke="#6a6a6a" stroke-width="0.8"/>
<line x1="252.95" y1="168.20" x2="252.95" y2="161.90" stroke="#6a6a6a" stroke-width="0.9"/>
<line x1="251.45" y1="161.90" x2="254.45" y2="161.90" stroke="#6a6a6a" stroke-width="0.8"/>
<circle cx="175.10" cy="176.50" r="1.25" fill="none" stroke="#111" stroke-width="0.85"/>
<circle cx="177.90" cy="176.50" r="1.25" fill="none" stroke="#111" stroke-width="0.85"/>
<circle cx="180.60" cy="177.10" r="1.25" fill="none" stroke="#111" stroke-width="0.85"/>
<circle cx="177.40" cy="184.20" r="1.25" fill="none" stroke="#111" stroke-width="0.85"/>
<circle cx="176.60" cy="186.00" r="1.25" fill="none" stroke="#111" stroke-width="0.85"/>
<circle cx="196.90" cy="167.60" r="1.25" fill="none" stroke="#111" stroke-width="0.85"/>
<circle cx="199.60" cy="168.70" r="1.25" fill="none" stroke="#111" stroke-width="0.85"/>
<circle cx="198.30" cy="168.00" r="1.25" fill="none" stroke="#111" stroke-width="0.85"/>
<circle cx="230.60" cy="183.80" r="1.25" fill="none" stroke="#111" stroke-width="0.85"/>
<circle cx="231.60" cy="185.60" r="1.25" fill="none" stroke="#111" stroke-width="0.85"/>
<circle cx="231.60" cy="188.00" r="1.25" fill="none" stroke="#111" stroke-width="0.85"/>
<circle cx="231.80" cy="190.30" r="1.25" fill="none" stroke="#111" stroke-width="0.85"/>
<circle cx="253.30" cy="162.50" r="1.25" fill="none" stroke="#111" stroke-width="0.85"/>
<circle cx="255.10" cy="164.70" r="1.25" fill="none" stroke="#111" stroke-width="0.85"/>
<circle cx="254.20" cy="171.00" r="1.25" fill="none" stroke="#111" stroke-width="0.85"/>
<text x="178.42" y="172.40" font-family='"Liberation Sans", sans-serif' class="b" font-weight="bold" font-size="7.4" text-anchor="middle" fill="#111">bc</text>
<text x="199.28" y="163.40" font-family='"Liberation Sans", sans-serif' class="b" font-weight="bold" font-size="7.4" text-anchor="middle" fill="#111">a</text>
<text x="231.47" y="179.30" font-family='"Liberation Sans", sans-serif' class="b" font-weight="bold" font-size="7.4" text-anchor="middle" fill="#111">c</text>
<text x="252.45" y="159.20" font-family='"Liberation Sans", sans-serif' class="b" font-weight="bold" font-size="7.4" text-anchor="middle" fill="#111">b</text>
<rect x="163.00" y="143.30" width="106.50" height="107.10" fill="none" stroke="#2b2b2b" stroke-width="1.1"/>
<line x1="161.40" y1="250.40" x2="163.00" y2="250.40" stroke="#2b2b2b" stroke-width="0.9"/>
<text x="160.40" y="252.25" font-family='"Liberation Sans", sans-serif' class="b" font-weight="bold" font-size="5.2" text-anchor="end" fill="#1a1a1a">0</text>
<line x1="161.40" y1="228.98" x2="163.00" y2="228.98" stroke="#2b2b2b" stroke-width="0.9"/>
<text x="160.40" y="230.83" font-family='"Liberation Sans", sans-serif' class="b" font-weight="bold" font-size="5.2" text-anchor="end" fill="#1a1a1a">7</text>
<line x1="161.40" y1="207.56" x2="163.00" y2="207.56" stroke="#2b2b2b" stroke-width="0.9"/>
<text x="160.40" y="209.41" font-family='"Liberation Sans", sans-serif' class="b" font-weight="bold" font-size="5.2" text-anchor="end" fill="#1a1a1a">14</text>
<line x1="161.40" y1="186.14" x2="163.00" y2="186.14" stroke="#2b2b2b" stroke-width="0.9"/>
<text x="160.40" y="187.99" font-family='"Liberation Sans", sans-serif' class="b" font-weight="bold" font-size="5.2" text-anchor="end" fill="#1a1a1a">21</text>
<line x1="161.40" y1="164.72" x2="163.00" y2="164.72" stroke="#2b2b2b" stroke-width="0.9"/>
<text x="160.40" y="166.57" font-family='"Liberation Sans", sans-serif' class="b" font-weight="bold" font-size="5.2" text-anchor="end" fill="#1a1a1a">28</text>
<line x1="161.40" y1="143.30" x2="163.00" y2="143.30" stroke="#2b2b2b" stroke-width="0.9"/>
<text x="160.40" y="145.15" font-family='"Liberation Sans", sans-serif' class="b" font-weight="bold" font-size="5.2" text-anchor="end" fill="#1a1a1a">35</text>
<line x1="176.30" y1="250.40" x2="176.30" y2="251.90" stroke="#2b2b2b" stroke-width="0.9"/>
<text x="176.30" y="257.50" font-family='"Liberation Sans", sans-serif' class="b" font-weight="bold" font-size="5.4" text-anchor="middle" fill="#1a1a1a">ORG1</text>
<line x1="203.00" y1="250.40" x2="203.00" y2="251.90" stroke="#2b2b2b" stroke-width="0.9"/>
<text x="203.00" y="257.50" font-family='"Liberation Sans", sans-serif' class="b" font-weight="bold" font-size="5.4" text-anchor="middle" fill="#1a1a1a">CON1</text>
<line x1="229.70" y1="250.40" x2="229.70" y2="251.90" stroke="#2b2b2b" stroke-width="0.9"/>
<text x="229.70" y="257.50" font-family='"Liberation Sans", sans-serif' class="b" font-weight="bold" font-size="5.4" text-anchor="middle" fill="#1a1a1a">ORG2</text>
<line x1="256.40" y1="250.40" x2="256.40" y2="251.90" stroke="#2b2b2b" stroke-width="0.9"/>
<text x="256.40" y="257.50" font-family='"Liberation Sans", sans-serif' class="b" font-weight="bold" font-size="5.4" text-anchor="middle" fill="#1a1a1a">CON2</text>
<text transform="translate(152.30,196.85) rotate(-90)" font-family='"Liberation Sans", sans-serif' class="b" font-weight="bold" font-size="6.3" text-anchor="middle" fill="#1a1a1a">Soil Ni contents (mg/kg)</text>
<text x="142.80" y="137.40" font-family='"Liberation Sans", sans-serif' class="b" font-weight="bold" font-size="8.2" fill="#1a1a1a">(F)</text>
<rect x="304.10" y="196.30" width="20.05" height="53.20" fill="#568dc4"/>
<rect x="304.10" y="196.30" width="20.05" height="53.20" fill="none" stroke="#3d6f9f" stroke-width="0.5"/>
<rect x="325.15" y="176.30" width="19.65" height="73.20" fill="url(#hb)"/>
<rect x="325.15" y="176.30" width="19.65" height="73.20" fill="none" stroke="#3d6f9f" stroke-width="0.5"/>
<rect x="357.15" y="196.50" width="20.05" height="53.00" fill="#928ac3"/>
<rect x="357.15" y="196.50" width="20.05" height="53.00" fill="none" stroke="#7d74aa" stroke-width="0.5"/>
<rect x="378.20" y="174.40" width="19.90" height="75.10" fill="url(#hp)"/>
<rect x="378.20" y="174.40" width="19.90" height="75.10" fill="none" stroke="#7d74aa" stroke-width="0.5"/>
<rect x="324.15" y="196.00" width="1" height="53.50" fill="#bcc1c9"/>
<rect x="377.20" y="196.20" width="1" height="53.30" fill="#bcc1c9"/>
<line x1="313.73" y1="196.00" x2="313.73" y2="188.20" stroke="#6a6a6a" stroke-width="0.9"/>
<line x1="312.23" y1="188.20" x2="315.23" y2="188.20" stroke="#6a6a6a" stroke-width="0.8"/>
<line x1="334.58" y1="176.00" x2="334.58" y2="173.50" stroke="#6a6a6a" stroke-width="0.9"/>
<line x1="333.08" y1="173.50" x2="336.08" y2="173.50" stroke="#6a6a6a" stroke-width="0.8"/>
<line x1="366.78" y1="196.20" x2="366.78" y2="193.00" stroke="#6a6a6a" stroke-width="0.9"/>
<line x1="365.28" y1="193.00" x2="368.28" y2="193.00" stroke="#6a6a6a" stroke-width="0.8"/>
<line x1="387.75" y1="174.10" x2="387.75" y2="167.20" stroke="#6a6a6a" stroke-width="0.9"/>
<line x1="386.25" y1="167.20" x2="389.25" y2="167.20" stroke="#6a6a6a" stroke-width="0.8"/>
<circle cx="311.60" cy="189.40" r="1.25" fill="none" stroke="#111" stroke-width="0.85"/>
<circle cx="313.20" cy="190.30" r="1.25" fill="none" stroke="#111" stroke-width="0.85"/>
<circle cx="310.60" cy="200.80" r="1.25" fill="none" stroke="#111" stroke-width="0.85"/>
<circle cx="314.30" cy="200.80" r="1.25" fill="none" stroke="#111" stroke-width="0.85"/>
<circle cx="316.10" cy="200.60" r="1.25" fill="none" stroke="#111" stroke-width="0.85"/>
<circle cx="331.50" cy="177.90" r="1.25" fill="none" stroke="#111" stroke-width="0.85"/>
<circle cx="333.40" cy="176.00" r="1.25" fill="none" stroke="#111" stroke-width="0.85"/>
<circle cx="335.70" cy="174.20" r="1.25" fill="none" stroke="#111" stroke-width="0.85"/>
<circle cx="365.80" cy="194.70" r="1.25" fill="none" stroke="#111" stroke-width="0.85"/>
<circle cx="367.20" cy="195.50" r="1.25" fill="none" stroke="#111" stroke-width="0.85"/>
<circle cx="368.30" cy="196.60" r="1.25" fill="none" stroke="#111" stroke-width="0.85"/>
<circle cx="388.20" cy="168.40" r="1.25" fill="none" stroke="#111" stroke-width="0.85"/>
<circle cx="391.10" cy="171.60" r="1.25" fill="none" stroke="#111" stroke-width="0.85"/>
<circle cx="387.80" cy="178.90" r="1.25" fill="none" stroke="#111" stroke-width="0.85"/>
<circle cx="388.90" cy="179.80" r="1.25" fill="none" stroke="#111" stroke-width="0.85"/>
<text x="313.23" y="186.00" font-family='"Liberation Sans", sans-serif' class="b" font-weight="bold" font-size="7.4" text-anchor="middle" fill="#111">b</text>
<text x="334.08" y="167.20" font-family='"Liberation Sans", sans-serif' class="b" font-weight="bold" font-size="7.4" text-anchor="middle" fill="#111">a</text>
<text x="366.28" y="191.00" font-family='"Liberation Sans", sans-serif' class="b" font-weight="bold" font-size="7.4" text-anchor="middle" fill="#111">c</text>
<text x="387.25" y="164.00" font-family='"Liberation Sans", sans-serif' class="b" font-weight="bold" font-size="7.4" text-anchor="middle" fill="#111">a</text>
<rect x="297.80" y="143.00" width="106.70" height="106.50" fill="none" stroke="#2b2b2b" stroke-width="1.1"/>
<line x1="296.20" y1="249.50" x2="297.80" y2="249.50" stroke="#2b2b2b" stroke-width="0.9"/>
<text x="295.20" y="251.35" font-family='"Liberation Sans", sans-serif' class="b" font-weight="bold" font-size="5.2" text-anchor="end" fill="#1a1a1a">0</text>
<line x1="296.20" y1="222.88" x2="297.80" y2="222.88" stroke="#2b2b2b" stroke-width="0.9"/>
<text x="295.20" y="224.72" font-family='"Liberation Sans", sans-serif' class="b" font-weight="bold" font-size="5.2" text-anchor="end" fill="#1a1a1a">3</text>
<line x1="296.20" y1="196.25" x2="297.80" y2="196.25" stroke="#2b2b2b" stroke-width="0.9"/>
<text x="295.20" y="198.10" font-family='"Liberation Sans", sans-serif' class="b" font-weight="bold" font-size="5.2" text-anchor="end" fill="#1a1a1a">6</text>
<line x1="296.20" y1="169.62" x2="297.80" y2="169.62" stroke="#2b2b2b" stroke-width="0.9"/>
<text x="295.20" y="171.47" font-family='"Liberation Sans", sans-serif' class="b" font-weight="bold" font-size="5.2" text-anchor="end" fill="#1a1a1a">9</text>
<line x1="296.20" y1="143.00" x2="297.80" y2="143.00" stroke="#2b2b2b" stroke-width="0.9"/>
<text x="295.20" y="144.85" font-family='"Liberation Sans", sans-serif' class="b" font-weight="bold" font-size="5.2" text-anchor="end" fill="#1a1a1a">12</text>
<line x1="311.10" y1="249.50" x2="311.10" y2="251.00" stroke="#2b2b2b" stroke-width="0.9"/>
<text x="311.10" y="256.60" font-family='"Liberation Sans", sans-serif' class="b" font-weight="bold" font-size="5.4" text-anchor="middle" fill="#1a1a1a">ORG1</text>
<line x1="337.80" y1="249.50" x2="337.80" y2="251.00" stroke="#2b2b2b" stroke-width="0.9"/>
<text x="337.80" y="256.60" font-family='"Liberation Sans", sans-serif' class="b" font-weight="bold" font-size="5.4" text-anchor="middle" fill="#1a1a1a">CON1</text>
<line x1="364.50" y1="249.50" x2="364.50" y2="251.00" stroke="#2b2b2b" stroke-width="0.9"/>
<text x="364.50" y="256.60" font-family='"Liberation Sans", sans-serif' class="b" font-weight="bold" font-size="5.4" text-anchor="middle" fill="#1a1a1a">ORG2</text>
<line x1="391.20" y1="249.50" x2="391.20" y2="251.00" stroke="#2b2b2b" stroke-width="0.9"/>
<text x="391.20" y="256.60" font-family='"Liberation Sans", sans-serif' class="b" font-weight="bold" font-size="5.4" text-anchor="middle" fill="#1a1a1a">CON2</text>
<text transform="translate(286.90,196.25) rotate(-90)" font-family='"Liberation Sans", sans-serif' class="b" font-weight="bold" font-size="6.3" text-anchor="middle" fill="#1a1a1a">Soil As contents (mg/kg)</text>
<text x="279.40" y="137.40" font-family='"Liberation Sans", sans-serif' class="b" font-weight="bold" font-size="8.2" fill="#1a1a1a">(G)</text>
<text x="415.40" y="138.40" font-family='"Liberation Sans", sans-serif' class="b" font-weight="bold" font-size="8.2" fill="#1a1a1a">(H)</text>
<circle cx="486.60" cy="187.90" r="0.62" fill="#1e1e1e"/>
<circle cx="491.49" cy="190.25" r="0.62" fill="#1e1e1e"/>
<circle cx="496.37" cy="192.61" r="0.62" fill="#1e1e1e"/>
<circle cx="497.58" cy="197.89" r="0.62" fill="#1e1e1e"/>
<circle cx="498.79" cy="203.18" r="0.62" fill="#1e1e1e"/>
<circle cx="495.41" cy="207.42" r="0.62" fill="#1e1e1e"/>
<circle cx="492.02" cy="211.66" r="0.62" fill="#1e1e1e"/>
<circle cx="486.60" cy="211.66" r="0.62" fill="#1e1e1e"/>
<circle cx="481.18" cy="211.66" r="0.62" fill="#1e1e1e"/>
<circle cx="477.79" cy="207.42" r="0.62" fill="#1e1e1e"/>
<circle cx="474.41" cy="203.18" r="0.62" fill="#1e1e1e"/>
<circle cx="475.62" cy="197.89" r="0.62" fill="#1e1e1e"/>
<circle cx="476.83" cy="192.61" r="0.62" fill="#1e1e1e"/>
<circle cx="481.71" cy="190.25" r="0.62" fill="#1e1e1e"/>
<circle cx="486.60" cy="175.40" r="0.62" fill="#1e1e1e"/>
<circle cx="491.49" cy="177.75" r="0.62" fill="#1e1e1e"/>
<circle cx="496.37" cy="180.11" r="0.62" fill="#1e1e1e"/>
<circle cx="501.26" cy="182.46" r="0.62" fill="#1e1e1e"/>
<circle cx="506.15" cy="184.81" r="0.62" fill="#1e1e1e"/>
<circle cx="507.35" cy="190.10" r="0.62" fill="#1e1e1e"/>
<circle cx="508.56" cy="195.39" r="0.62" fill="#1e1e1e"/>
<circle cx="509.77" cy="200.68" r="0.62" fill="#1e1e1e"/>
<circle cx="510.97" cy="205.96" r="0.62" fill="#1e1e1e"/>
<circle cx="507.59" cy="210.20" r="0.62" fill="#1e1e1e"/>
<circle cx="504.21" cy="214.44" r="0.62" fill="#1e1e1e"/>
<circle cx="500.83" cy="218.68" r="0.62" fill="#1e1e1e"/>
<circle cx="497.45" cy="222.92" r="0.62" fill="#1e1e1e"/>
<circle cx="492.02" cy="222.92" r="0.62" fill="#1e1e1e"/>
<circle cx="486.60" cy="222.92" r="0.62" fill="#1e1e1e"/>
<circle cx="481.18" cy="222.92" r="0.62" fill="#1e1e1e"/>
<circle cx="475.75" cy="222.92" r="0.62" fill="#1e1e1e"/>
<circle cx="472.37" cy="218.68" r="0.62" fill="#1e1e1e"/>
<circle cx="468.99" cy="214.44" r="0.62" fill="#1e1e1e"/>
<circle cx="465.61" cy="210.20" r="0.62" fill="#1e1e1e"/>
<circle cx="462.23" cy="205.96" r="0.62" fill="#1e1e1e"/>
<circle cx="463.43" cy="200.68" r="0.62" fill="#1e1e1e"/>
<circle cx="464.64" cy="195.39" r="0.62" fill="#1e1e1e"/>
<circle cx="465.85" cy="190.10" r="0.62" fill="#1e1e1e"/>
<circle cx="467.05" cy="184.81" r="0.62" fill="#1e1e1e"/>
<circle cx="471.94" cy="182.46" r="0.62" fill="#1e1e1e"/>
<circle cx="476.83" cy="180.11" r="0.62" fill="#1e1e1e"/>
<circle cx="481.71" cy="177.75" r="0.62" fill="#1e1e1e"/>
<circle cx="486.60" cy="162.90" r="0.62" fill="#1e1e1e"/>
<circle cx="490.79" cy="164.92" r="0.62" fill="#1e1e1e"/>
<circle cx="494.98" cy="166.93" r="0.62" fill="#1e1e1e"/>
<circle cx="499.17" cy="168.95" r="0.62" fill="#1e1e1e"/>
<circle cx="503.35" cy="170.97" r="0.62" fill="#1e1e1e"/>
<circle cx="507.54" cy="172.99" r="0.62" fill="#1e1e1e"/>
<circle cx="511.73" cy="175.00" r="0.62" fill="#1e1e1e"/>
<circle cx="515.92" cy="177.02" r="0.62" fill="#1e1e1e"/>
<circle cx="516.95" cy="181.55" r="0.62" fill="#1e1e1e"/>
<circle cx="517.99" cy="186.08" r="0.62" fill="#1e1e1e"/>
<circle cx="519.02" cy="190.62" r="0.62" fill="#1e1e1e"/>
<circle cx="520.06" cy="195.15" r="0.62" fill="#1e1e1e"/>
<circle cx="521.09" cy="199.68" r="0.62" fill="#1e1e1e"/>
<circle cx="522.13" cy="204.21" r="0.62" fill="#1e1e1e"/>
<circle cx="523.16" cy="208.74" r="0.62" fill="#1e1e1e"/>
<circle cx="520.26" cy="212.38" r="0.62" fill="#1e1e1e"/>
<circle cx="517.36" cy="216.01" r="0.62" fill="#1e1e1e"/>
<circle cx="514.46" cy="219.65" r="0.62" fill="#1e1e1e"/>
<circle cx="511.57" cy="223.28" r="0.62" fill="#1e1e1e"/>
<circle cx="508.67" cy="226.92" r="0.62" fill="#1e1e1e"/>
<circle cx="505.77" cy="230.55" r="0.62" fill="#1e1e1e"/>
<circle cx="502.87" cy="234.19" r="0.62" fill="#1e1e1e"/>
<circle cx="498.22" cy="234.19" r="0.62" fill="#1e1e1e"/>
<circle cx="493.57" cy="234.19" r="0.62" fill="#1e1e1e"/>
<circle cx="488.92" cy="234.19" r="0.62" fill="#1e1e1e"/>
<circle cx="484.28" cy="234.19" r="0.62" fill="#1e1e1e"/>
<circle cx="479.63" cy="234.19" r="0.62" fill="#1e1e1e"/>
<circle cx="474.98" cy="234.19" r="0.62" fill="#1e1e1e"/>
<circle cx="470.33" cy="234.19" r="0.62" fill="#1e1e1e"/>
<circle cx="467.43" cy="230.55" r="0.62" fill="#1e1e1e"/>
<circle cx="464.53" cy="226.92" r="0.62" fill="#1e1e1e"/>
<circle cx="461.63" cy="223.28" r="0.62" fill="#1e1e1e"/>
<circle cx="458.74" cy="219.65" r="0.62" fill="#1e1e1e"/>
<circle cx="455.84" cy="216.01" r="0.62" fill="#1e1e1e"/>
<circle cx="452.94" cy="212.38" r="0.62" fill="#1e1e1e"/>
<circle cx="450.04" cy="208.74" r="0.62" fill="#1e1e1e"/>
<circle cx="451.07" cy="204.21" r="0.62" fill="#1e1e1e"/>
<circle cx="452.11" cy="199.68" r="0.62" fill="#1e1e1e"/>
<circle cx="453.14" cy="195.15" r="0.62" fill="#1e1e1e"/>
<circle cx="454.18" cy="190.62" r="0.62" fill="#1e1e1e"/>
<circle cx="455.21" cy="186.08" r="0.62" fill="#1e1e1e"/>
<circle cx="456.25" cy="181.55" r="0.62" fill="#1e1e1e"/>
<circle cx="457.28" cy="177.02" r="0.62" fill="#1e1e1e"/>
<circle cx="461.47" cy="175.00" r="0.62" fill="#1e1e1e"/>
<circle cx="465.66" cy="172.99" r="0.62" fill="#1e1e1e"/>
<circle cx="469.85" cy="170.97" r="0.62" fill="#1e1e1e"/>
<circle cx="474.03" cy="168.95" r="0.62" fill="#1e1e1e"/>
<circle cx="478.22" cy="166.93" r="0.62" fill="#1e1e1e"/>
<circle cx="482.41" cy="164.92" r="0.62" fill="#1e1e1e"/>
<circle cx="486.60" cy="150.40" r="0.62" fill="#1e1e1e"/>
<circle cx="490.94" cy="152.49" r="0.62" fill="#1e1e1e"/>
<circle cx="495.29" cy="154.58" r="0.62" fill="#1e1e1e"/>
<circle cx="499.63" cy="156.68" r="0.62" fill="#1e1e1e"/>
<circle cx="503.97" cy="158.77" r="0.62" fill="#1e1e1e"/>
<circle cx="508.32" cy="160.86" r="0.62" fill="#1e1e1e"/>
<circle cx="512.66" cy="162.95" r="0.62" fill="#1e1e1e"/>
<circle cx="517.00" cy="165.04" r="0.62" fill="#1e1e1e"/>
<circle cx="521.35" cy="167.13" r="0.62" fill="#1e1e1e"/>
<circle cx="525.69" cy="169.23" r="0.62" fill="#1e1e1e"/>
<circle cx="526.76" cy="173.93" r="0.62" fill="#1e1e1e"/>
<circle cx="527.84" cy="178.63" r="0.62" fill="#1e1e1e"/>
<circle cx="528.91" cy="183.33" r="0.62" fill="#1e1e1e"/>
<circle cx="529.98" cy="188.03" r="0.62" fill="#1e1e1e"/>
<circle cx="531.06" cy="192.73" r="0.62" fill="#1e1e1e"/>
<circle cx="532.13" cy="197.43" r="0.62" fill="#1e1e1e"/>
<circle cx="533.20" cy="202.13" r="0.62" fill="#1e1e1e"/>
<circle cx="534.27" cy="206.83" r="0.62" fill="#1e1e1e"/>
<circle cx="535.35" cy="211.53" r="0.62" fill="#1e1e1e"/>
<circle cx="532.34" cy="215.30" r="0.62" fill="#1e1e1e"/>
<circle cx="529.33" cy="219.06" r="0.62" fill="#1e1e1e"/>
<circle cx="526.33" cy="222.83" r="0.62" fill="#1e1e1e"/>
<circle cx="523.32" cy="226.60" r="0.62" fill="#1e1e1e"/>
<circle cx="520.32" cy="230.37" r="0.62" fill="#1e1e1e"/>
<circle cx="517.31" cy="234.14" r="0.62" fill="#1e1e1e"/>
<circle cx="514.31" cy="237.91" r="0.62" fill="#1e1e1e"/>
<circle cx="511.30" cy="241.68" r="0.62" fill="#1e1e1e"/>
<circle cx="508.29" cy="245.45" r="0.62" fill="#1e1e1e"/>
<circle cx="503.47" cy="245.45" r="0.62" fill="#1e1e1e"/>
<circle cx="498.65" cy="245.45" r="0.62" fill="#1e1e1e"/>
<circle cx="493.83" cy="245.45" r="0.62" fill="#1e1e1e"/>
<circle cx="489.01" cy="245.45" r="0.62" fill="#1e1e1e"/>
<circle cx="484.19" cy="245.45" r="0.62" fill="#1e1e1e"/>
<circle cx="479.37" cy="245.45" r="0.62" fill="#1e1e1e"/>
<circle cx="474.55" cy="245.45" r="0.62" fill="#1e1e1e"/>
<circle cx="469.73" cy="245.45" r="0.62" fill="#1e1e1e"/>
<circle cx="464.91" cy="245.45" r="0.62" fill="#1e1e1e"/>
<circle cx="461.90" cy="241.68" r="0.62" fill="#1e1e1e"/>
<circle cx="458.89" cy="237.91" r="0.62" fill="#1e1e1e"/>
<circle cx="455.89" cy="234.14" r="0.62" fill="#1e1e1e"/>
<circle cx="452.88" cy="230.37" r="0.62" fill="#1e1e1e"/>
<circle cx="449.88" cy="226.60" r="0.62" fill="#1e1e1e"/>
<circle cx="446.87" cy="222.83" r="0.62" fill="#1e1e1e"/>
<circle cx="443.87" cy="219.06" r="0.62" fill="#1e1e1e"/>
<circle cx="440.86" cy="215.30" r="0.62" fill="#1e1e1e"/>
<circle cx="437.85" cy="211.53" r="0.62" fill="#1e1e1e"/>
<circle cx="438.93" cy="206.83" r="0.62" fill="#1e1e1e"/>
<circle cx="440.00" cy="202.13" r="0.62" fill="#1e1e1e"/>
<circle cx="441.07" cy="197.43" r="0.62" fill="#1e1e1e"/>
<circle cx="442.14" cy="192.73" r="0.62" fill="#1e1e1e"/>
<circle cx="443.22" cy="188.03" r="0.62" fill="#1e1e1e"/>
<circle cx="444.29" cy="183.33" r="0.62" fill="#1e1e1e"/>
<circle cx="445.36" cy="178.63" r="0.62" fill="#1e1e1e"/>
<circle cx="446.44" cy="173.93" r="0.62" fill="#1e1e1e"/>
<circle cx="447.51" cy="169.23" r="0.62" fill="#1e1e1e"/>
<circle cx="451.85" cy="167.13" r="0.62" fill="#1e1e1e"/>
<circle cx="456.20" cy="165.04" r="0.62" fill="#1e1e1e"/>
<circle cx="460.54" cy="162.95" r="0.62" fill="#1e1e1e"/>
<circle cx="464.88" cy="160.86" r="0.62" fill="#1e1e1e"/>
<circle cx="469.23" cy="158.77" r="0.62" fill="#1e1e1e"/>
<circle cx="473.57" cy="156.68" r="0.62" fill="#1e1e1e"/>
<circle cx="477.91" cy="154.58" r="0.62" fill="#1e1e1e"/>
<circle cx="482.26" cy="152.49" r="0.62" fill="#1e1e1e"/>
<line x1="486.6" y1="200.4" x2="486.60" y2="150.40" stroke="#222" stroke-width="0.75"/>
<circle cx="486.60" cy="187.90" r="0.75" fill="#111"/>
<circle cx="486.60" cy="175.40" r="0.75" fill="#111"/>
<circle cx="486.60" cy="162.90" r="0.75" fill="#111"/>
<circle cx="486.60" cy="150.40" r="0.75" fill="#111"/>
<line x1="486.6" y1="200.4" x2="525.69" y2="169.23" stroke="#222" stroke-width="0.75"/>
<circle cx="496.37" cy="192.61" r="0.75" fill="#111"/>
<circle cx="506.15" cy="184.81" r="0.75" fill="#111"/>
<circle cx="515.92" cy="177.02" r="0.75" fill="#111"/>
<circle cx="525.69" cy="169.23" r="0.75" fill="#111"/>
<line x1="486.6" y1="200.4" x2="535.35" y2="211.53" stroke="#222" stroke-width="0.75"/>
<circle cx="498.79" cy="203.18" r="0.75" fill="#111"/>
<circle cx="510.97" cy="205.96" r="0.75" fill="#111"/>
<circle cx="523.16" cy="208.74" r="0.75" fill="#111"/>
<circle cx="535.35" cy="211.53" r="0.75" fill="#111"/>
<line x1="486.6" y1="200.4" x2="508.29" y2="245.45" stroke="#222" stroke-width="0.75"/>
<circle cx="492.02" cy="211.66" r="0.75" fill="#111"/>
<circle cx="497.45" cy="222.92" r="0.75" fill="#111"/>
<circle cx="502.87" cy="234.19" r="0.75" fill="#111"/>
<circle cx="508.29" cy="245.45" r="0.75" fill="#111"/>
<line x1="486.6" y1="200.4" x2="464.91" y2="245.45" stroke="#222" stroke-width="0.75"/>
<circle cx="481.18" cy="211.66" r="0.75" fill="#111"/>
<circle cx="475.75" cy="222.92" r="0.75" fill="#111"/>
<circle cx="470.33" cy="234.19" r="0.75" fill="#111"/>
<circle cx="464.91" cy="245.45" r="0.75" fill="#111"/>
<line x1="486.6" y1="200.4" x2="437.85" y2="211.53" stroke="#222" stroke-width="0.75"/>
<circle cx="474.41" cy="203.18" r="0.75" fill="#111"/>
<circle cx="462.23" cy="205.96" r="0.75" fill="#111"/>
<circle cx="450.04" cy="208.74" r="0.75" fill="#111"/>
<circle cx="437.85" cy="211.53" r="0.75" fill="#111"/>
<line x1="486.6" y1="200.4" x2="447.51" y2="169.23" stroke="#222" stroke-width="0.75"/>
<circle cx="476.83" cy="192.61" r="0.75" fill="#111"/>
<circle cx="467.05" cy="184.81" r="0.75" fill="#111"/>
<circle cx="457.28" cy="177.02" r="0.75" fill="#111"/>
<circle cx="447.51" cy="169.23" r="0.75" fill="#111"/>
<polygon points="486.60,163.15 511.46,180.57 528.91,210.06 495.28,218.42 479.01,216.17 455.40,207.52 473.70,190.11" fill="rgb(130,140,210)" fill-opacity="0.2" stroke="none"/>
<polygon points="486.60,173.40 509.27,182.32 516.58,207.24 494.63,217.07 479.22,215.72 455.40,207.52 473.70,190.11" fill="rgb(110,244,174)" fill-opacity="0.25" stroke="none"/>
<polygon points="486.60,178.40 505.75,185.12 515.85,207.08 492.46,212.56 481.39,211.21 459.55,206.57 476.83,192.61" fill="rgb(240,115,176)" fill-opacity="0.25" stroke="none"/>
<polygon points="486.60,185.40 501.06,188.87 513.90,206.63 492.46,212.56 481.39,211.21 459.55,206.57 478.78,194.17" fill="rgb(200,205,40)" fill-opacity="0.32" stroke="none"/>
<polygon points="486.60,163.15 511.46,180.57 528.91,210.06 495.28,218.42 479.01,216.17 455.40,207.52 473.70,190.11" fill="none" stroke="#4584cc" stroke-width="1.1"/>
<polygon points="486.60,173.40 509.27,182.32 516.58,207.24 494.63,217.07 479.22,215.72 455.40,207.52 473.70,190.11" fill="none" stroke="#25c98c" stroke-width="1.1"/>
<polygon points="486.60,178.40 505.75,185.12 515.85,207.08 492.46,212.56 481.39,211.21 459.55,206.57 476.83,192.61" fill="none" stroke="#ec7272" stroke-width="1.1" stroke-dasharray="2.6 1.8"/>
<polygon points="486.60,185.40 501.06,188.87 513.90,206.63 492.46,212.56 481.39,211.21 459.55,206.57 478.78,194.17" fill="none" stroke="#f2cc1e" stroke-width="1.1" stroke-dasharray="2.6 1.8"/>
<text x="485.50" y="151.60" font-family='"Liberation Sans", sans-serif' font-weight="bold" font-size="3.4" text-anchor="end" fill="#222">1.00</text>
<text x="485.50" y="164.10" font-family='"Liberation Sans", sans-serif' font-weight="bold" font-size="3.4" text-anchor="end" fill="#222">0.75</text>
<text x="485.50" y="176.60" font-family='"Liberation Sans", sans-serif' font-weight="bold" font-size="3.4" text-anchor="end" fill="#222">0.50</text>
<text x="485.50" y="189.10" font-family='"Liberation Sans", sans-serif' font-weight="bold" font-size="3.4" text-anchor="end" fill="#222">0.25</text>
<text transform="translate(486.60,142.00) rotate(0.00)" font-family='"Liberation Sans", sans-serif' class="b" font-weight="bold" font-size="5.6" text-anchor="middle" dominant-baseline="central" fill="#1a1a1a">Cd</text>
<text transform="translate(532.73,163.61) rotate(51.43)" font-family='"Liberation Sans", sans-serif' class="b" font-weight="bold" font-size="5.6" text-anchor="middle" dominant-baseline="central" fill="#1a1a1a">Cu</text>
<text transform="translate(544.12,213.53) rotate(-77.14)" font-family='"Liberation Sans", sans-serif' class="b" font-weight="bold" font-size="5.6" text-anchor="middle" dominant-baseline="central" fill="#1a1a1a">Zn</text>
<text transform="translate(512.20,253.56) rotate(-25.71)" font-family='"Liberation Sans", sans-serif' class="b" font-weight="bold" font-size="5.6" text-anchor="middle" dominant-baseline="central" fill="#1a1a1a">Pb</text>
<text transform="translate(461.00,253.56) rotate(25.71)" font-family='"Liberation Sans", sans-serif' class="b" font-weight="bold" font-size="5.6" text-anchor="middle" dominant-baseline="central" fill="#1a1a1a">As</text>
<text transform="translate(429.08,213.53) rotate(77.14)" font-family='"Liberation Sans", sans-serif' class="b" font-weight="bold" font-size="5.6" text-anchor="middle" dominant-baseline="central" fill="#1a1a1a">Cr</text>
<text transform="translate(440.47,163.61) rotate(-51.43)" font-family='"Liberation Sans", sans-serif' class="b" font-weight="bold" font-size="5.6" text-anchor="middle" dominant-baseline="central" fill="#1a1a1a">Ni</text>
<text x="472.4" y="241.1" font-family='"Liberation Sans", sans-serif' font-size="4.6" fill="#1a1a1a">I<tspan font-size="3" dy="1.4" font-weight="bold">geo</tspan><tspan class="b" font-weight="bold" dy="-1.4" dx="1.3"> risk index</tspan></text>
<rect x="525.2" y="228.30" width="9.6" height="3.8" fill="#f6c9c9" stroke="#ef6a6a" stroke-width="0.9" stroke-dasharray="1.6 1.1"/>
<text x="535.8" y="231.65" font-family='"Liberation Sans", sans-serif' font-weight="bold" font-size="4.05" fill="#1a1a1a">ORG1</text>
<rect x="525.2" y="234.15" width="9.6" height="3.8" fill="#d6e3f3" stroke="#3f7fc8" stroke-width="0.9"/>
<text x="535.8" y="237.50" font-family='"Liberation Sans", sans-serif' font-weight="bold" font-size="4.05" fill="#1a1a1a">CON1</text>
<rect x="525.2" y="240.00" width="9.6" height="3.8" fill="#f7ebb5" stroke="#f2cf2a" stroke-width="0.9" stroke-dasharray="1.6 1.1"/>
<text x="535.8" y="243.35" font-family='"Liberation Sans", sans-serif' font-weight="bold" font-size="4.05" fill="#1a1a1a">ORG2</text>
<rect x="525.2" y="245.85" width="9.6" height="3.8" fill="#bfeadb" stroke="#22c08a" stroke-width="0.9"/>
<text x="535.8" y="249.20" font-family='"Liberation Sans", sans-serif' font-weight="bold" font-size="4.05" fill="#1a1a1a">CON2</text>
</svg>
</body></html>
